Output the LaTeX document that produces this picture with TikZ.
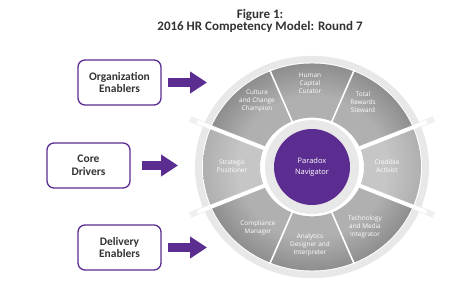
\documentclass[tikz,border=0pt]{standalone}
\usepackage{fontspec}
\setmainfont{Carlito}
\newfontfamily\wheelfont{Open Sans}
\usetikzlibrary{arrows.meta,calc}
\definecolor{hrpurple}{HTML}{5C2D91}
\definecolor{hrtext}{HTML}{333333}
\definecolor{segdarkout}{HTML}{6C6C6C}
\definecolor{segdarkin}{HTML}{B0B0B0}
\definecolor{seglightout}{HTML}{999999}
\definecolor{seglightin}{HTML}{C6C6C6}
\definecolor{ringgray}{HTML}{E8E8E8}
\definecolor{extgray}{HTML}{F0F0F0}
\pgfdeclareradialshading{darkseg}{\pgfpoint{0bp}{0bp}}{color(0bp)=(segdarkin); color(17bp)=(segdarkin); color(33bp)=(segdarkout); color(50bp)=(segdarkout)}
\pgfdeclareradialshading{lightseg}{\pgfpoint{0bp}{0bp}}{color(0bp)=(seglightin); color(17bp)=(seglightin); color(33bp)=(seglightout); color(50bp)=(seglightout)}
\tikzset{
  hrbox/.style={draw=hrpurple, line width=1.3pt, rounded corners=7pt, minimum width=83pt, minimum height=45pt, align=center, text=hrtext, font=\bfseries\fontsize{11.5}{12.5}\selectfont},
  fatarrow/.style={draw=hrpurple, line width=9pt, -{Triangle[length=17pt,width=21pt]}},
  segtext/.style={text=white, align=center, font=\wheelfont\fontsize{6.4}{8}\selectfont, inner sep=0pt},
}
\begin{document}
\begin{tikzpicture}[x=1pt,y=1pt]
\useasboundingbox (0,0) rectangle (474,289);
\fill[white] (0,0) rectangle (474,289);
\node[align=center, text=hrtext, font=\bfseries\fontsize{13}{12.5}\selectfont] (title) at (260,268) {Figure 1:\\2016 HR Competency Model: Round 7};
\coordinate (c) at (312,122);
\begin{scope}[shift={(312,122)}, yscale=0.95]
  \foreach \a in {22.5,157.5,202.5,337.5}
    \draw[extgray, line width=6pt] (\a:100) -- (\a:132);
  \fill[ringgray] (0,0) circle (117);
  \fill[white] (0,0) circle (110);
  \foreach \a/\sh in {90/darkseg,45/darkseg,135/darkseg,0/lightseg,180/lightseg,270/darkseg,225/darkseg,315/darkseg}{
    \begin{scope}
      \clip (\a-22.5:109) arc[start angle=\a-22.5, end angle=\a+22.5, radius=109] -- (\a+22.5:52) arc[start angle=\a+22.5, end angle=\a-22.5, radius=52] -- cycle;
      \shade[shading=\sh] (0,0) circle (109);
    \end{scope}
  }
  \foreach \a in {22.5,157.5,202.5,337.5}
    \draw[white, line width=4pt] (\a:47) -- (\a:124);
  \foreach \a in {67.5,112.5,247.5,292.5}
    \draw[white, line width=1.6pt] (\a:50) -- (\a:111);
\end{scope}
\fill[ringgray] (c) circle (47);
\node[circle, fill=hrpurple, minimum size=76pt, inner sep=0pt, text=white, align=center, font=\wheelfont\fontsize{7.5}{10.5}\selectfont] (nav) at (c) {Paradox\\Navigator};
\node[segtext] (hcc) at (310,206) {Human\\Capital\\Curator};
\node[segtext] (ccc) at (257,188) {Culture\\and Change\\Champion};
\node[segtext] (trs) at (363,187) {Total\\Rewards\\Steward};
\node[segtext] (sp) at (232,123) {Strategic\\Positioner};
\node[segtext] (ca) at (387,123) {Credible\\Activist};
\node[segtext] (cm) at (258,61) {Compliance\\Manager};
\node[segtext] (adi) at (310,44) {Analytics\\Designer and\\Interpreter};
\node[segtext] (tmi) at (365,62) {Technology\\and Media\\Integrator};
\node[hrbox] (b1) at (119.5,206.5) {Organization\\Enablers};
\node[hrbox] (b2) at (88.5,123.5) {Core\\Drivers};
\node[hrbox] (b3) at (119.5,41.5) {Delivery\\Enablers};
\coordinate (e1) at (207,206.5);
\coordinate (e2) at (178,123.5);
\coordinate (e3) at (207,41.5);
\draw[fatarrow] ([xshift=6pt]b1.east) -- (e1);
\draw[fatarrow] ([xshift=11pt]b2.east) -- (e2);
\draw[fatarrow] ([xshift=6pt]b3.east) -- (e3);
\end{tikzpicture}
\end{document}
